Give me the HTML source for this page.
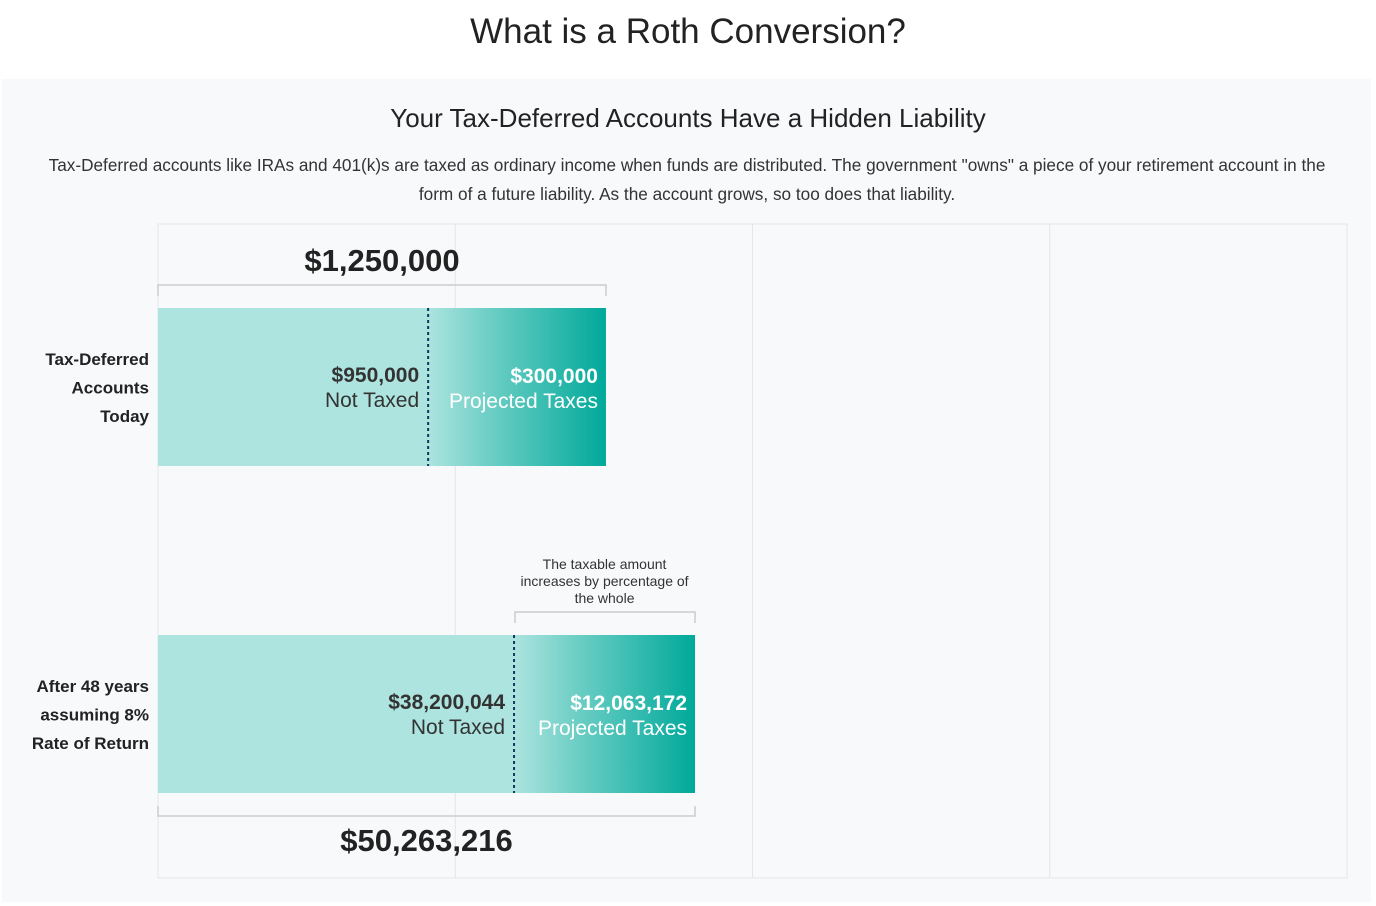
<!DOCTYPE html>
<html><head><meta charset="utf-8"><style>
body{margin:0;width:1376px;height:906px;background:#fff;font-family:"Liberation Sans",sans-serif;position:relative;overflow:hidden;color:#333}
.abs{position:absolute}
</style></head><body>
<div class="abs" style="left:0;width:1376px;top:12px;text-align:center;font-size:35px;color:#222">What is a Roth Conversion?</div>
<div class="abs" style="left:2px;top:79px;width:1369px;height:823px;background:#f8f9fb"></div>
<div class="abs" style="left:0;width:1376px;top:103px;text-align:center;font-size:26px;color:#222">Your Tax-Deferred Accounts Have a Hidden Liability</div>
<div class="abs" style="left:30px;width:1314px;top:151px;text-align:center;font-size:17.2px;line-height:28.5px;color:#333">Tax-Deferred accounts like IRAs and 401(k)s are taxed as ordinary income when funds are distributed. The government "owns" a piece of your retirement account in the form of a future liability. As the account grows, so too does that liability.</div>
<svg class="abs" style="left:0;top:0" width="1376" height="906" id="chart">
<defs><linearGradient id="g" x1="0" x2="1" y1="0" y2="0"><stop offset="0" stop-color="#ade4df"/><stop offset="0.35" stop-color="#6ccec5"/><stop offset="1" stop-color="#00a99a"/></linearGradient></defs>
<g id="grid"></g><g id="marks"></g>
</svg>
<script>
const categories=["Tax-Deferred|Accounts|Today","After 48 years|assuming 8%|Rate of Return"];
const notTaxed=[950000,38200044];
const taxes=[300000,12063172];
const totals=[1250000,50263216];
const gridTicks=[0,1,2,3,4];
const NS="http://www.w3.org/2000/svg";
const L=158,R=1347,T=224,B=878;
const colW=(R-L)/4;
function xTotal(v){return 55.5*Math.log10(v)+109.6;} // display width of bar
function xSplit(a,t){return 0.603+(Math.log10(t)-6.097)*0.0374;} // display share
function mk(tag,attrs,parent){const e=document.createElementNS(NS,tag);for(const k in attrs)e.setAttribute(k,attrs[k]);parent.appendChild(e);return e;}
const grid=document.getElementById('grid'),marks=document.getElementById('marks');
gridTicks.forEach(i=>{const l=mk('line',{x1:L+i*colW,x2:L+i*colW,y1:T,y2:B,stroke:'#e4e6ea','stroke-width':1},grid);

});
const fr=mk('rect',{x:L,y:T,width:R-L,height:B-T,fill:'none',stroke:'#e4e6ea'},grid);


const barY=[308,635],barH=158;
function txt(x,y,s,size,weight,fill,anchor,name){const t=mk('text',{x:x,y:y,'font-size':size,'font-weight':weight,fill:fill,'text-anchor':anchor,'font-family':'Liberation Sans, sans-serif'},marks);t.textContent=s;

return t;}
function fmt(v){return '$'+v.toLocaleString('en-US');}
categories.forEach((c,i)=>{
 const w=xTotal(totals[i]);const sx=L+w*xSplit(notTaxed[i],totals[i]);const y=barY[i];
 const a=mk('rect',{x:L,y:y,width:sx-L,height:barH,fill:'#ade4df'},marks);
 
 
 const b=mk('rect',{x:sx,y:y,width:L+w-sx,height:barH,fill:'url(#g)'},marks);
 
 
 const d=mk('line',{x1:sx,x2:sx,y1:y,y2:y+barH,stroke:'#0d3b5e','stroke-width':2,'stroke-dasharray':'3,3'},marks);
 
 
 txt(sx-9,y+74,fmt(notTaxed[i]),21,'bold','#333','end','not-taxed-value');
 txt(sx-9,y+99,'Not Taxed',21,'normal','#333','end','not-taxed-label');
 txt(L+w-8,y+75,fmt(taxes[i]),21,'bold','#fff','end','taxes-value');
 txt(L+w-8,y+100,'Projected Taxes',21,'normal','#fff','end','taxes-label');
 c.split('|').forEach((s,j)=>txt(149,y+57+j*28.5,s,17,'bold','#222','end','category-label'));
 const by=i==0?285:816,dy=i==0?11:-10;
 const br=mk('path',{d:`M${L} ${by+dy}V${by}H${L+w}V${by+dy}`,fill:'none',stroke:'#ccc','stroke-width':1.5},marks);
 
 
 txt(L+w/2,i==0?271:851,fmt(totals[i]),31,'bold','#222','middle','total-value');
 if(i==1){
  const ab=mk('path',{d:`M${sx+1} 623V612H${L+w}V623`,fill:'none',stroke:'#ccc','stroke-width':1.5},marks);
  
  
  ['The taxable amount','increases by percentage of','the whole'].forEach((s,j)=>txt((sx+L+w)/2,569+j*17,s,14,'normal','#333','middle','annotation-text'));
 }
});
</script>
</body></html>
